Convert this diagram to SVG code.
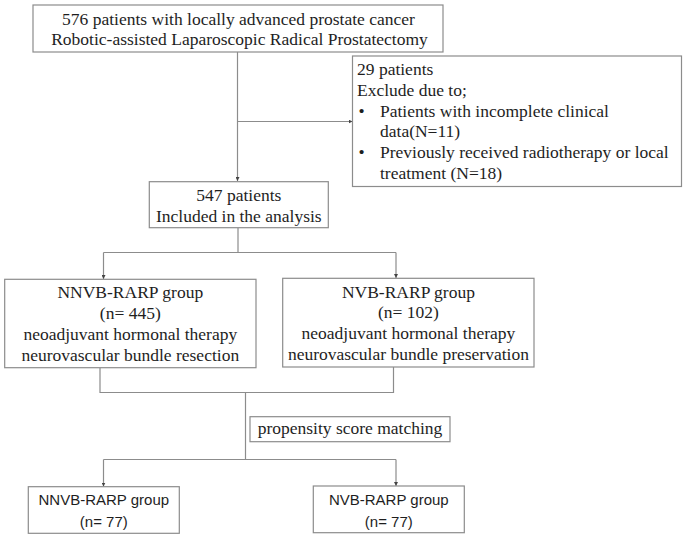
<svg xmlns="http://www.w3.org/2000/svg" width="685" height="539" viewBox="0 0 685 539">
<defs>
<style>
.box{fill:#fff;stroke:#8c8c8c;stroke-width:1.2}
.ln{fill:none;stroke:#8c8c8c;stroke-width:1.2}
.s{font-family:"Liberation Serif","Times New Roman",serif;font-size:17.5px;fill:#1e1e1e}
.c{text-anchor:middle}
.f{font-family:"Liberation Sans",Arial,sans-serif;font-size:15px;fill:#1e1e1e;text-anchor:middle}
</style>
<marker id="ah" viewBox="0 0 6 6" refX="6" refY="3" markerWidth="4" markerHeight="4" markerUnits="userSpaceOnUse" orient="auto">
<path d="M0,0 L6,3 L0,6 z" fill="#444"/>
</marker>
</defs>
<rect width="685" height="539" fill="#fff"/>
<g id="connectors">
<path class="ln" d="M237.5,52 V181" marker-end="url(#ah)"/>
<path class="ln" d="M237.5,121.5 H352.5" marker-end="url(#ah)"/>
<path class="ln" d="M238,228 V252.5"/>
<path class="ln" d="M103.5,252.5 H396 "/>
<path class="ln" d="M103.5,252.5 V279" marker-end="url(#ah)"/>
<path class="ln" d="M396,252.5 V278" marker-end="url(#ah)"/>
<path class="ln" d="M100,368 V392.5 H393.5 V367"/>
<path class="ln" d="M245.5,392.5 V459.5"/>
<path class="ln" d="M103.5,459.5 H396"/>
<path class="ln" d="M103.5,459.5 V486.5" marker-end="url(#ah)"/>
<path class="ln" d="M396,459.5 V486" marker-end="url(#ah)"/>
</g>
<g id="n-start">
<rect class="box" x="33" y="5" width="410" height="47"/>
<text class="s c" x="238.5" y="25">576 patients with locally advanced prostate cancer</text>
<text class="s c" x="239.5" y="45">Robotic-assisted Laparoscopic Radical Prostatectomy</text>
</g>
<g id="n-exclude">
<rect class="box" x="352.5" y="56" width="329" height="130.5"/>
<text class="s" x="357" y="75">29 patients</text>
<text class="s" x="357" y="95.8">Exclude due to;</text>
<text class="s" x="358.5" y="116.6">•</text>
<text class="s" x="380" y="116.6">Patients with incomplete clinical</text>
<text class="s" x="380" y="137.4">data(N=11)</text>
<text class="s" x="358.5" y="158.2">•</text>
<text class="s" x="380" y="158.2">Previously received radiotherapy or local</text>
<text class="s" x="380" y="179">treatment (N=18)</text>
</g>
<g id="n-included">
<rect class="box" x="149.3" y="181.7" width="179" height="46"/>
<text class="s c" x="238.8" y="201">547 patients</text>
<text class="s c" x="238.8" y="221.5">Included in the analysis</text>
</g>
<g id="n-nnvb">
<rect class="box" x="4.7" y="279.3" width="251.3" height="88.4"/>
<text class="s c" x="130.3" y="298.3">NNVB-RARP group</text>
<text class="s c" x="130.3" y="319.1">(n= 445)</text>
<text class="s c" x="130.3" y="339.9">neoadjuvant hormonal therapy</text>
<text class="s c" x="130.3" y="360.7">neurovascular bundle resection</text>
</g>
<g id="n-nvb">
<rect class="box" x="282.7" y="278.3" width="251.3" height="88.7"/>
<text class="s c" x="408.4" y="297.5">NVB-RARP group</text>
<text class="s c" x="408.4" y="318.3">(n= 102)</text>
<text class="s c" x="408.4" y="339.1">neoadjuvant hormonal therapy</text>
<text class="s c" x="408.4" y="359.9">neurovascular bundle preservation</text>
</g>
<g id="n-psm">
<rect class="box" x="250" y="416.7" width="200" height="25"/>
<text class="s c" x="350" y="433.5">propensity score matching</text>
</g>
<g id="n-nnvb77">
<rect class="box" x="28.3" y="486.7" width="151" height="46.6"/>
<text class="f" x="103.8" y="505">NNVB-RARP group</text>
<text class="f" x="103.8" y="526.5">(n= 77)</text>
</g>
<g id="n-nvb77">
<rect class="box" x="313.3" y="486" width="151" height="46.7"/>
<text class="f" x="388.8" y="505">NVB-RARP group</text>
<text class="f" x="388.8" y="526.5">(n= 77)</text>
</g>
</svg>
